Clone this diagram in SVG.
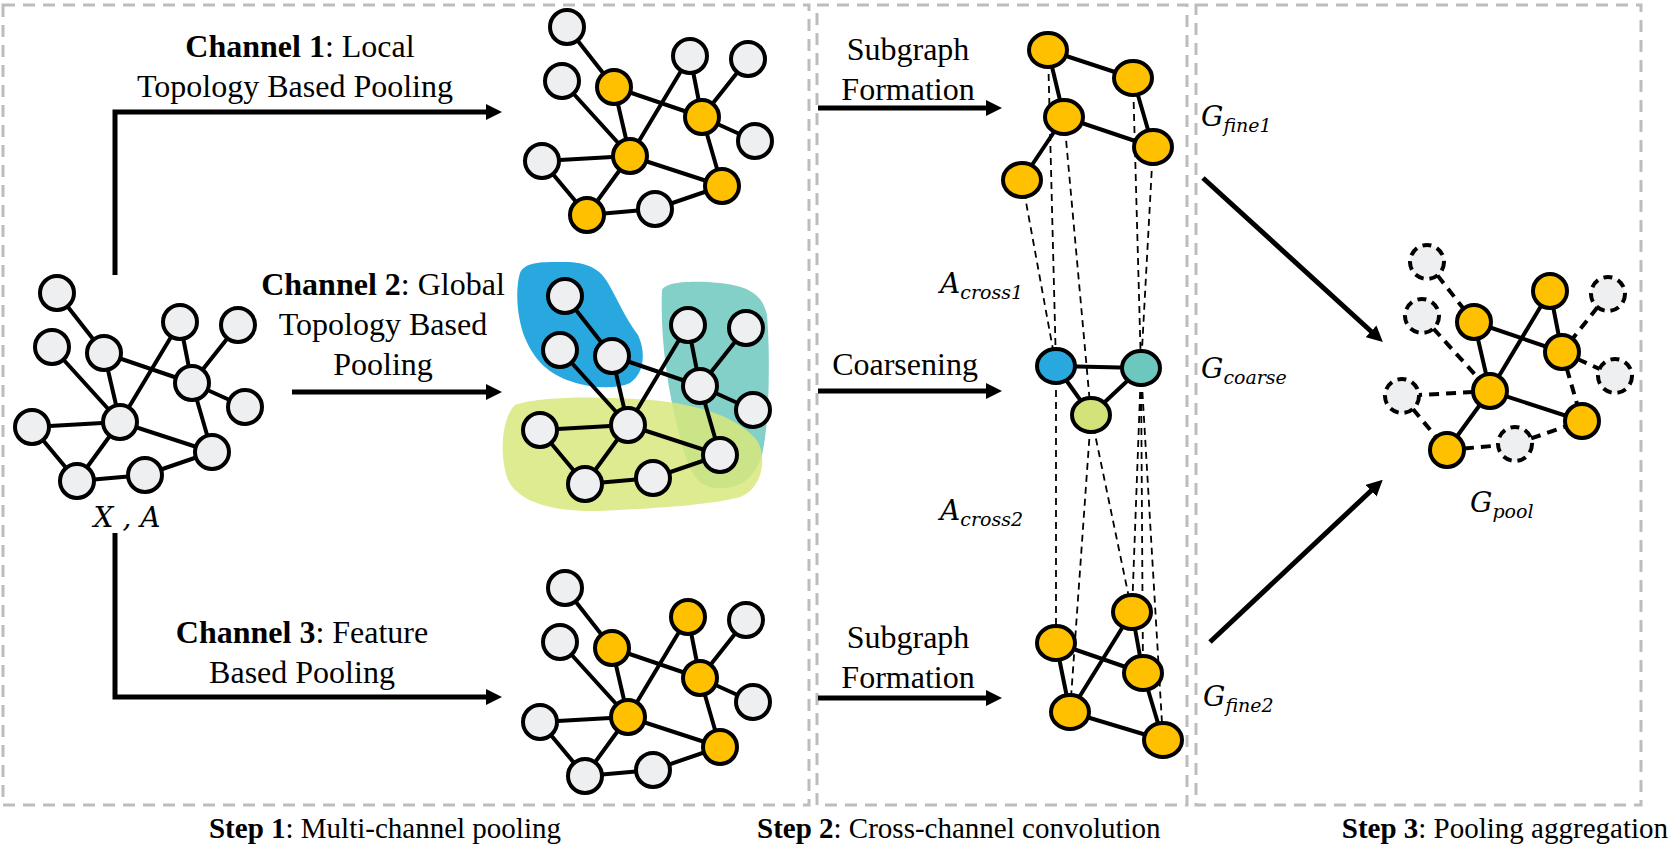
<svg xmlns="http://www.w3.org/2000/svg" xmlns:xlink="http://www.w3.org/1999/xlink" width="1676" height="848" viewBox="0 0 1676 848">
<style>
.panel{fill:none;stroke:#bdbdbd;stroke-width:3;stroke-dasharray:12,8}
.edge{fill:none;stroke:#000;stroke-width:4}
.dedge{fill:none;stroke:#000;stroke-width:4;stroke-dasharray:10,7}
.cross{fill:none;stroke:#000;stroke-width:1.8;stroke-dasharray:7,5}
.arrow{fill:none;stroke:#000;stroke-width:5}
.g{fill:#eeeff1;stroke:#000;stroke-width:4}
.o{fill:#ffc000;stroke:#000;stroke-width:4}
.d{fill:#eeeff1;stroke:#000;stroke-width:4;stroke-dasharray:9,6}
.t{font-family:"Liberation Serif",serif;font-size:32px;fill:#000}
.b{font-weight:bold}
.m{font-family:"DejaVu Serif","Liberation Serif",serif;font-style:italic;font-size:28px;fill:#000}
.s{font-size:19px}
.step{font-family:"Liberation Serif",serif;font-size:29px;fill:#000}
</style>
<defs>
<marker id="ah" viewBox="0 0 16 16" refX="4" refY="8" markerWidth="16" markerHeight="16" markerUnits="userSpaceOnUse" orient="auto">
<path d="M0,0L16,8L0,16z" fill="#000"/>
</marker>
<path id="edges" d="M57,293L104,353M52,347L120,422M104,353L120,422M104,353L192,383M180,322L120,422M180,322L192,383M238,325L192,383M192,383L245,407M192,383L212,452M120,422L32,427M120,422L212,452M120,422L77,481M32,427L77,481M77,481L145,475M145,475L212,452"/>
</defs>

<g id="panels">
<rect class="panel" x="3" y="5" width="806" height="800"/>
<rect class="panel" x="817" y="5" width="370" height="800"/>
<rect class="panel" x="1196" y="5" width="445" height="800"/>
</g>

<g id="blobs">
<path fill="#29a8e0" d="M520,273C525,262 540,262 560,262C585,261 600,268 608,283C618,300 625,318 638,335C645,350 646,372 630,383C615,390 590,388 570,381C550,374 535,362 525,338C517,318 515,290 520,273Z"/>
<path fill="#7ccdc6" fill-opacity="0.95" d="M662,290C665,282 690,280 720,283C745,286 762,292 767,315C770,350 770,420 762,455C755,478 740,490 715,488C695,486 688,470 678,430C668,390 660,340 662,290Z"/>
<path fill="#d9e77d" fill-opacity="0.85" d="M515,405C540,396 600,396 650,400C700,404 740,418 758,442C768,462 760,490 740,497C710,505 660,508 600,511C560,512 520,505 508,480C500,460 500,420 515,405Z"/>
</g>

<g id="connectors">
<path class="arrow" d="M115,275V112H490" marker-end="url(#ah)"/>
<path class="arrow" d="M292,392H490" marker-end="url(#ah)"/>
<path class="arrow" d="M115,533V697H490" marker-end="url(#ah)"/>
<path class="arrow" d="M818,108H990" marker-end="url(#ah)"/>
<path class="arrow" d="M818,391H990" marker-end="url(#ah)"/>
<path class="arrow" d="M818,698H990" marker-end="url(#ah)"/>
<path class="arrow" d="M1203,178L1374,334" marker-end="url(#ah)"/>
<path class="arrow" d="M1210,642L1374,488" marker-end="url(#ah)"/>
<g id="cross-edges">
<path class="cross" d="M1022,180L1056,366M1048,50L1056,366M1064,117L1091,415M1133,78L1141,368M1153,147L1141,368"/>
<path class="cross" d="M1056,366L1056,643M1091,415L1070,712M1091,415L1132,612M1141,368L1132,612M1141,368L1143,673M1141,368L1163,740"/>
</g>
</g>

<g id="graph-input">
<use href="#edges" class="edge"/>
<circle class="g" cx="57" cy="293" r="17"/><circle class="g" cx="52" cy="347" r="17"/><circle class="g" cx="104" cy="353" r="17"/><circle class="g" cx="180" cy="322" r="17"/><circle class="g" cx="238" cy="325" r="17"/><circle class="g" cx="192" cy="383" r="17"/><circle class="g" cx="245" cy="407" r="17"/><circle class="g" cx="120" cy="422" r="17"/><circle class="g" cx="32" cy="427" r="17"/><circle class="g" cx="212" cy="452" r="17"/><circle class="g" cx="77" cy="481" r="17"/><circle class="g" cx="145" cy="475" r="17"/>
</g>

<g id="graph-channel1" transform="translate(510,-266)">
<use href="#edges" class="edge"/>
<circle class="g" cx="57" cy="293" r="17"/><circle class="g" cx="52" cy="347" r="17"/><circle class="o" cx="104" cy="353" r="17"/><circle class="g" cx="180" cy="322" r="17"/><circle class="g" cx="238" cy="325" r="17"/><circle class="o" cx="192" cy="383" r="17"/><circle class="g" cx="245" cy="407" r="17"/><circle class="o" cx="120" cy="422" r="17"/><circle class="g" cx="32" cy="427" r="17"/><circle class="o" cx="212" cy="452" r="17"/><circle class="o" cx="77" cy="481" r="17"/><circle class="g" cx="145" cy="475" r="17"/>
</g>

<g id="graph-channel2" transform="translate(508,3)">
<use href="#edges" class="edge"/>
<circle class="g" cx="57" cy="293" r="17"/><circle class="g" cx="52" cy="347" r="17"/><circle class="g" cx="104" cy="353" r="17"/><circle class="g" cx="180" cy="322" r="17"/><circle class="g" cx="238" cy="325" r="17"/><circle class="g" cx="192" cy="383" r="17"/><circle class="g" cx="245" cy="407" r="17"/><circle class="g" cx="120" cy="422" r="17"/><circle class="g" cx="32" cy="427" r="17"/><circle class="g" cx="212" cy="452" r="17"/><circle class="g" cx="77" cy="481" r="17"/><circle class="g" cx="145" cy="475" r="17"/>
</g>

<g id="graph-channel3" transform="translate(508,295)">
<use href="#edges" class="edge"/>
<circle class="g" cx="57" cy="293" r="17"/><circle class="g" cx="52" cy="347" r="17"/><circle class="o" cx="104" cy="353" r="17"/><circle class="o" cx="180" cy="322" r="17"/><circle class="g" cx="238" cy="325" r="17"/><circle class="o" cx="192" cy="383" r="17"/><circle class="g" cx="245" cy="407" r="17"/><circle class="o" cx="120" cy="422" r="17"/><circle class="g" cx="32" cy="427" r="17"/><circle class="o" cx="212" cy="452" r="17"/><circle class="g" cx="77" cy="481" r="17"/><circle class="g" cx="145" cy="475" r="17"/>
</g>

<g id="graph-fine1">
<path class="edge" d="M1048,50L1133,78M1048,50L1064,117M1064,117L1153,147M1133,78L1153,147M1064,117L1022,180"/>
<ellipse class="o" cx="1048" cy="50" rx="19" ry="17"/><ellipse class="o" cx="1133" cy="78" rx="19" ry="17"/><ellipse class="o" cx="1064" cy="117" rx="19" ry="17"/><ellipse class="o" cx="1153" cy="147" rx="19" ry="17"/><ellipse class="o" cx="1022" cy="180" rx="19" ry="17"/>
</g>

<g id="graph-coarse">
<path class="edge" d="M1056,366L1141,368M1056,366L1091,415M1141,368L1091,415"/>
<ellipse fill="#29a8e0" stroke="#000" stroke-width="4" cx="1056" cy="366" rx="19" ry="17"/>
<ellipse fill="#6cc8be" stroke="#000" stroke-width="4" cx="1141" cy="368" rx="19" ry="17"/>
<ellipse fill="#d4e27a" stroke="#000" stroke-width="4" cx="1091" cy="415" rx="19" ry="17"/>
</g>

<g id="graph-fine2">
<path class="edge" d="M1056,643L1143,673M1056,643L1070,712M1070,712L1132,612M1132,612L1143,673M1143,673L1163,740M1070,712L1163,740"/>
<ellipse class="o" cx="1056" cy="643" rx="19" ry="17"/><ellipse class="o" cx="1132" cy="612" rx="19" ry="17"/><ellipse class="o" cx="1143" cy="673" rx="19" ry="17"/><ellipse class="o" cx="1070" cy="712" rx="19" ry="17"/><ellipse class="o" cx="1163" cy="740" rx="19" ry="17"/>
</g>

<g id="graph-pool" transform="translate(1370,-31)">
<path class="edge" d="M104,353L120,422M104,353L192,383M180,322L120,422M180,322L192,383M120,422L212,452M120,422L77,481"/>
<path class="dedge" d="M57,293L104,353M52,347L120,422M238,325L192,383M192,383L245,407M192,383L212,452M120,422L32,427M32,427L77,481M77,481L145,475M145,475L212,452"/>
<circle class="d" cx="57" cy="293" r="17"/><circle class="d" cx="52" cy="347" r="17"/><circle class="o" cx="104" cy="353" r="17"/><circle class="o" cx="180" cy="322" r="17"/><circle class="d" cx="238" cy="325" r="17"/><circle class="o" cx="192" cy="383" r="17"/><circle class="d" cx="245" cy="407" r="17"/><circle class="o" cx="120" cy="422" r="17"/><circle class="d" cx="32" cy="427" r="17"/><circle class="o" cx="212" cy="452" r="17"/><circle class="o" cx="77" cy="481" r="17"/><circle class="d" cx="145" cy="475" r="17"/>
</g>

<g id="labels">
<text class="t" x="300" y="57" text-anchor="middle"><tspan class="b">Channel 1</tspan>: Local</text>
<text class="t" x="295" y="97" text-anchor="middle">Topology Based Pooling</text>
<text class="t" x="383" y="295" text-anchor="middle"><tspan class="b">Channel 2</tspan>: Global</text>
<text class="t" x="383" y="335" text-anchor="middle">Topology Based</text>
<text class="t" x="383" y="375" text-anchor="middle">Pooling</text>
<text class="t" x="302" y="643" text-anchor="middle"><tspan class="b">Channel 3</tspan>: Feature</text>
<text class="t" x="302" y="683" text-anchor="middle">Based Pooling</text>
<text class="m" x="127" y="527" text-anchor="middle" font-size="24">X , A</text>
<text class="t" x="908" y="60" text-anchor="middle">Subgraph</text>
<text class="t" x="908" y="100" text-anchor="middle">Formation</text>
<text class="t" x="905" y="375" text-anchor="middle">Coarsening</text>
<text class="t" x="908" y="648" text-anchor="middle">Subgraph</text>
<text class="t" x="908" y="688" text-anchor="middle">Formation</text>
<text class="m" x="940" y="293">A<tspan class="s" dy="6">cross1</tspan></text>
<text class="m" x="940" y="520">A<tspan class="s" dy="6">cross2</tspan></text>
<text class="m" x="1201" y="126">G<tspan class="s" dy="6">fine1</tspan></text>
<text class="m" x="1201" y="378">G<tspan class="s" dy="6">coarse</tspan></text>
<text class="m" x="1203" y="706">G<tspan class="s" dy="6">fine2</tspan></text>
<text class="m" x="1470" y="512">G<tspan class="s" dy="6">pool</tspan></text>
<text class="step" x="385" y="838" text-anchor="middle"><tspan class="b">Step 1</tspan>: Multi-channel pooling</text>
<text class="step" x="757" y="838"><tspan class="b">Step 2</tspan>: Cross-channel convolution</text>
<text class="step" x="1668" y="838" text-anchor="end"><tspan class="b">Step 3</tspan>: Pooling aggregation</text>
</g>
</svg>
